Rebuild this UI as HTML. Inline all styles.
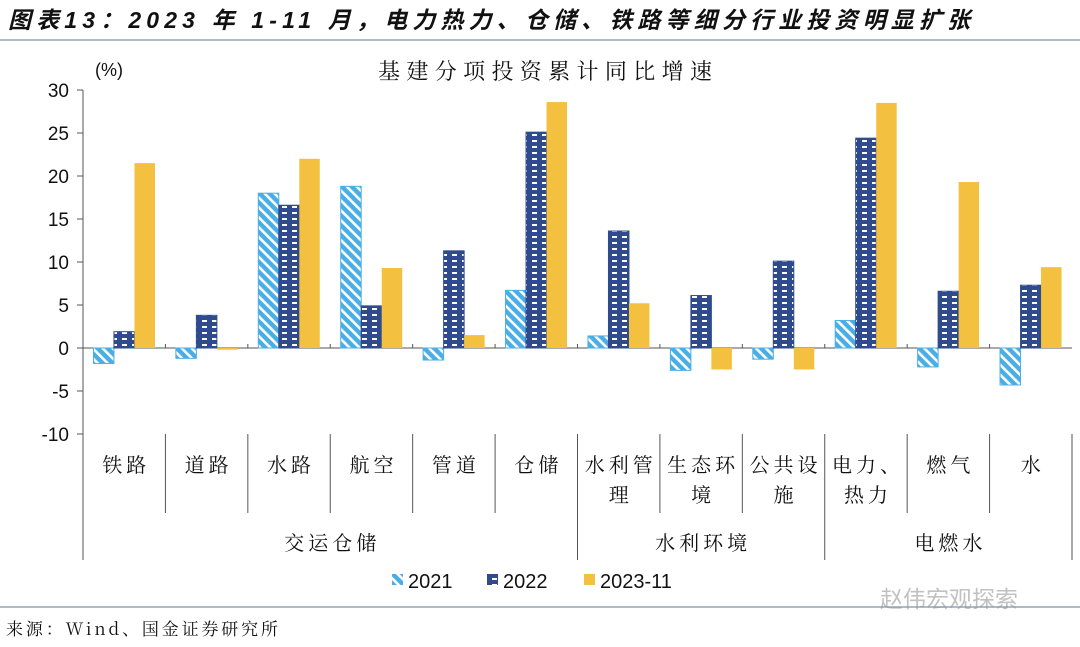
<!DOCTYPE html>
<html><head><meta charset="utf-8"><style>
body{margin:0;background:#fff;}
svg{display:block;font-family:"Liberation Sans","Noto Sans CJK SC",sans-serif;}
.cj{font-family:"Noto Serif CJK SC","Noto Sans CJK SC",serif;}
</style></head><body>
<svg id="c" width="1080" height="647" viewBox="0 0 1080 647">
<defs>
<pattern id="p21" width="7" height="7" patternUnits="userSpaceOnUse" patternTransform="rotate(-45)">
<rect width="7" height="7" fill="#4aaee6"/><rect x="0" width="2.6" height="7" fill="#fff"/></pattern>
<pattern id="p22" width="10" height="6" patternUnits="userSpaceOnUse">
<rect width="10" height="6" fill="#2f4b8e"/><rect x="2" y="2" width="5" height="2" fill="#fff"/></pattern>
</defs>
<text x="8" y="28" font-size="23" font-weight="bold" font-style="italic" fill="#111" textLength="962" lengthAdjust="spacing" style="font-family:'Liberation Sans','Noto Sans CJK SC',sans-serif">图表13：2023 年 1-11 月，电力热力、仓储、铁路等细分行业投资明显扩张</text>
<line x1="0" y1="40" x2="1080" y2="40" stroke="#8fa5ba" stroke-width="1.5"/>
<text x="378" y="79" font-size="22" class="cj" fill="#111" textLength="334" lengthAdjust="spacing">基建分项投资累计同比增速</text>
<text x="95" y="76" font-size="18" fill="#111">(%)</text>
<g id="axes"></g><g id="bars"></g><g id="labels"></g>
<g>
<rect x="392" y="574" width="11" height="11" fill="url(#p21)"/>
<text x="408" y="588" font-size="20" fill="#111">2021</text>
<rect x="487" y="574" width="11" height="11" fill="url(#p22)"/>
<text x="503" y="588" font-size="20" fill="#111">2022</text>
<rect x="584" y="574" width="11" height="11" fill="#f3c13f"/>
<text x="600" y="588" font-size="20" fill="#111">2023-11</text>
</g>
<line x1="0" y1="607" x2="1080" y2="607" stroke="#8fa5ba" stroke-width="1.5"/>
<text x="6" y="635" font-size="17" class="cj" fill="#111" textLength="272" lengthAdjust="spacing">来源：Wind、国金证券研究所</text>
<text x="880" y="607" font-size="23" fill="#999" opacity="0.6">赵伟宏观探索</text>
</svg>
<script>
const categories=[["铁路"],["道路"],["水路"],["航空"],["管道"],["仓储"],["水利管","理"],["生态环","境"],["公共设","施"],["电力、","热力"],["燃气"],["水"]];
const groups=["交运仓储","水利环境","电燃水"];
const groupSizes=[6,3,3];
const s2021=[-1.8,-1.2,18.0,18.8,-1.4,6.7,1.4,-2.6,-1.3,3.2,-2.2,-4.3];
const s2022=[1.9,3.8,16.6,4.9,11.3,25.1,13.6,6.1,10.1,24.4,6.6,7.3];
const s2023=[21.5,-0.2,22.0,9.3,1.5,28.6,5.2,-2.5,-2.5,28.5,19.3,9.4];
const yTicks=[30,25,20,15,10,5,0,-5,-10];
const NS="http://www.w3.org/2000/svg";
const X0=83,X1=1072,Y0=348,PPU=8.6;
const n=categories.length,cw=(X1-X0)/n;
const y=v=>Y0-v*PPU;
const xc=i=>X0+i*cw;
function mk(t,a,p){const e=document.createElementNS(NS,t);for(const k in a)e.setAttribute(k,a[k]);p.appendChild(e);return e;}
const ax=document.getElementById('axes'),bg=document.getElementById('bars'),lg=document.getElementById('labels');
let l=mk('line',{x1:X0,y1:y(30),x2:X0,y2:y(-10),stroke:'#555','stroke-width':1},ax);


yTicks.forEach(t=>{
 const tk=mk('line',{x1:X0-6,y1:y(t),x2:X0,y2:y(t),stroke:'#555'},ax);
 
 
 const tx=mk('text',{x:X0-14,y:y(t)+7,'font-size':19,'text-anchor':'end',fill:'#111'},ax);
 tx.textContent=t;
 
 
});
const series=[[s2021,'url(#p21)','#4aaee6','2021'],[s2022,'url(#p22)','#2f4b8e','2022'],[s2023,'#f3c13f','#f3c13f','2023'],];
const bw=20.5,pad=(cw-3*bw)/2;
series.forEach((s,si)=>{s[0].forEach((v,i)=>{
 const x=xc(i)+pad+si*bw;
 const r=mk('rect',{x:x,y:Math.min(y(v),Y0),width:bw,height:Math.max(Math.abs(v*PPU),1),fill:s[1],stroke:s[2],'stroke-width':si<2?1:0},bg);
 
 
});});
let z=mk('line',{x1:X0,y1:Y0,x2:X1,y2:Y0,stroke:'#555'},ax);


for(let i=1;i<n;i++){
 const t=mk('line',{x1:xc(i),y1:Y0-4,x2:xc(i),y2:Y0,stroke:'#555'},ax);
 
 
}
const bounds=[0];groupSizes.forEach(g=>bounds.push(bounds[bounds.length-1]+g));
for(let i=0;i<=n;i++){
 const full=bounds.includes(i);
 const t=mk('line',{x1:xc(i),y1:y(-10),x2:xc(i),y2:full?560:513,stroke:'#555'},ax);
 
 
}
categories.forEach((c,i)=>{c.forEach((ln,j)=>{
 const t=mk('text',{x:xc(i)+cw/2+2,y:472+j*30,'font-size':20,'text-anchor':'middle','letter-spacing':4,fill:'#111','class':'cj'},lg);
 t.textContent=ln;
 
 
});});
groups.forEach((g,gi)=>{
 const t=mk('text',{x:(xc(bounds[gi])+xc(bounds[gi+1]))/2+2,y:550,'font-size':20,'text-anchor':'middle','letter-spacing':4,fill:'#111','class':'cj'},lg);
 t.textContent=g;
 
 
});
</script>
</body></html>
